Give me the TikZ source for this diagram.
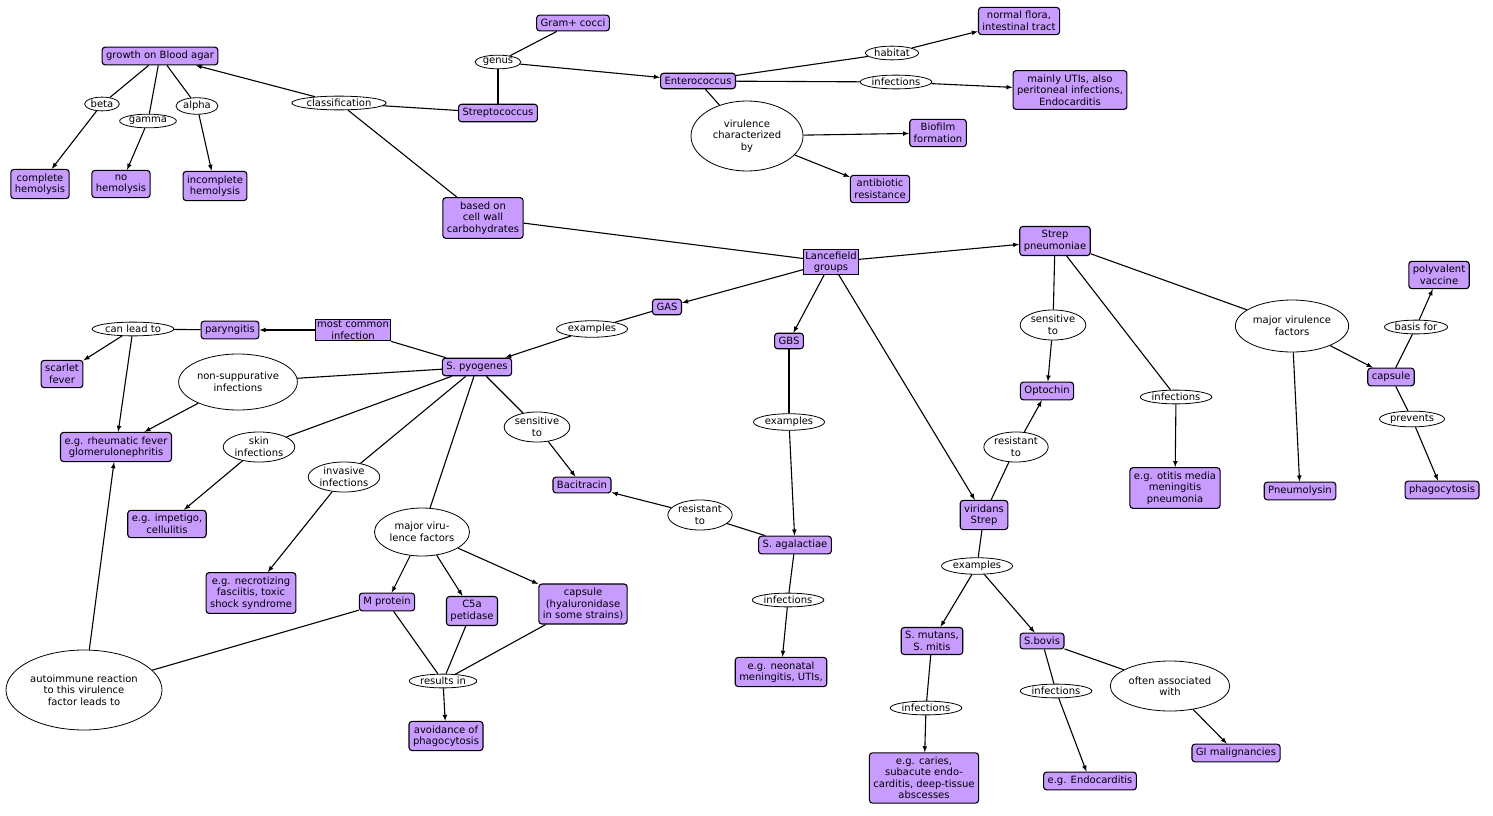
\documentclass[tikz,border=0pt]{standalone}
\usepackage{fontspec}
\setmainfont{DejaVu Sans}
\usetikzlibrary{arrows,shapes.geometric,positioning}
\definecolor{boxpurple}{RGB}{200,155,255}
\begin{document}
\begin{tikzpicture}
	[
	x=1pt, y=-1pt,
	every node/.style={font=\fontsize{10}{11.5}\selectfont, align=center},
  > = latex,
  box/.style = {draw, line width=1.1pt, fill=boxpurple, rounded corners=3pt, inner sep=4pt},
  sqbox/.style = {draw, line width=1.1pt, fill=boxpurple, inner sep=1.5pt},
  link/.style = {draw, ellipse, line width=0.8pt, fill=white, inner sep=1pt},
  every path/.style = {line width=1.1pt}
  ]
	\useasboundingbox (0,0) rectangle (1493,816);

	% concepts
	\node[box] (gram) at (573,23) {Gram+ cocci};
	\node[box] (blood) at (160,56) {growth on Blood agar};
	\node[box] (flora) at (1019,21) {normal flora,\\intestinal tract};
	\node[box] (entero) at (698,81) {Enterococcus};
	\node[box] (utis) at (1070,90) {mainly UTIs, also\\peritoneal infections,\\Endocarditis};
	\node[box] (strep) at (498,113) {Streptococcus};
	\node[box] (biofilm) at (938,133) {Biofilm\\formation};
	\node[box] (antib) at (880,189) {antibiotic\\resistance};
	\node[box] (complete) at (40,184) {complete\\hemolysis};
	\node[box] (nohem) at (121,184) {no\\hemolysis};
	\node[box] (incompl) at (215,186) {incomplete\\hemolysis};
	\node[box] (cellwall) at (483,218) {based on\\cell wall\\carbohydrates};
	\node[sqbox] (lance) at (831,262) {Lancefield\\groups};
	\node[box] (pneumo) at (1055,241) {Strep\\pneumoniae};
	\node[box] (polyv) at (1439,275) {polyvalent\\vaccine};
	\node[box] (gas) at (667,307) {GAS};
	\node[sqbox] (common) at (353,330) {most common\\infection};
	\node[box] (paryn) at (230,330) {paryngitis};
	\node[box] (gbs) at (789,341) {GBS};
	\node[box] (spyo) at (477,367) {S. pyogenes};
	\node[box] (scarlet) at (62,374) {scarlet\\fever};
	\node[box] (caps2) at (1391,377) {capsule};
	\node[box] (opto) at (1047,391) {Optochin};
	\node[box] (rheum) at (116,447) {e.g. rheumatic fever\\glomerulonephritis};
	\node[box] (bacit) at (582,485) {Bacitracin};
	\node[box] (otitis) at (1175,488) {e.g. otitis media\\meningitis\\pneumonia};
	\node[box] (pnlys) at (1300,491) {Pneumolysin};
	\node[box] (phago) at (1442,490) {phagocytosis};
	\node[box] (impet) at (167,524) {e.g. impetigo,\\cellulitis};
	\node[box] (virid) at (984,515) {viridans\\Strep};
	\node[box] (sagal) at (795,545) {S. agalactiae};
	\node[box] (necro) at (251,593) {e.g. necrotizing\\fasciitis, toxic\\shock syndrome};
	\node[box] (mprot) at (387,602) {M protein};
	\node[box] (cfive) at (472,611) {C5a\\petidase};
	\node[box] (caps1) at (583,604) {capsule\\(hyaluronidase\\in some strains)};
	\node[box] (mutans) at (932,641) {S. mutans,\\S. mitis};
	\node[box] (sbovis) at (1042,641) {S.bovis};
	\node[box] (neonat) at (781,672) {e.g. neonatal\\meningitis, UTIs,};
	\node[box] (avoid) at (446,736) {avoidance of\\phagocytosis};
	\node[box] (caries) at (924,778) {e.g. caries,\\subacute endo-\\carditis, deep-tissue\\abscesses};
	\node[box] (endoc) at (1090,781) {e.g. Endocarditis};
	\node[box] (gimal) at (1236,753) {GI malignancies};

	% linking phrases
	\node[link] (genus) at (498,62) {genus};
	\node[link] (habitat) at (892,53) {habitat};
	\node[link] (inf1) at (896,82) {infections};
	\node[link] (classif) at (339,103) {classification};
	\node[link] (beta) at (102,104) {beta};
	\node[link] (gamma) at (148,121) {gamma};
	\node[link] (alpha) at (197,106) {alpha};
	\node[link, minimum width=112, minimum height=70] (virul) at (747,136) {virulence\\characterized\\by};
	\node[link] (canlead) at (133,329) {can lead to};
	\node[link] (ex1) at (592,329) {examples};
	\node[link, minimum width=118, minimum height=56] (nonsupp) at (238,382) {non-suppurative\\infections};
	\node[link] (skin) at (259,447) {skin\\infections};
	\node[link] (invas) at (344,477) {invasive\\infections};
	\node[link] (sens1) at (537,427) {sensitive\\to};
	\node[link] (ex2) at (789,422) {examples};
	\node[link] (sens2) at (1053,325) {sensitive\\to};
	\node[link, minimum width=110, minimum height=52] (major2) at (1292,326) {major virulence\\factors};
	\node[link] (basis) at (1416,327) {basis for};
	\node[link] (inf2) at (1176,397) {infections};
	\node[link] (prev) at (1412,419) {prevents};
	\node[link] (resist1) at (1016,447) {resistant\\to};
	\node[link] (resist2) at (700,515) {resistant\\to};
	\node[link, minimum width=95, minimum height=48] (major1) at (422,532) {major viru-\\lence factors};
	\node[link] (ex3) at (977,566) {examples};
	\node[link] (inf3) at (788,600) {infections};
	\node[link, minimum width=156, minimum height=80] (autoimm) at (84,690) {autoimmune reaction\\to this virulence\\factor leads to};
	\node[link] (result) at (443,681) {results in};
	\node[link] (inf4) at (926,708) {infections};
	\node[link] (inf5) at (1056,691) {infections};
	\node[link, minimum width=118, minimum height=50] (often) at (1170,686) {often associated\\with};

	% connectors
	\draw (strep) -- (genus);
	\draw (genus) -- (gram);
	\draw[->] (genus) -- (entero);
	\draw (entero) -- (habitat);
	\draw[->] (habitat) -- (flora);
	\draw (entero) -- (inf1);
	\draw[->] (inf1) -- (utis);
	\draw (entero) -- (virul);
	\draw[->] (virul) -- (biofilm);
	\draw[->] (virul) -- (antib);
	\draw (strep) -- (classif);
	\draw[->] (classif) -- (blood);
	\draw (classif) -- (cellwall);
	\draw (blood) -- (beta);
	\draw[->] (beta) -- (complete);
	\draw (blood) -- (gamma);
	\draw[->] (gamma) -- (nohem);
	\draw (blood) -- (alpha);
	\draw[->] (alpha) -- (incompl);
	\draw (cellwall) -- (lance);
	\draw[->] (lance) -- (pneumo);
	\draw[->] (lance) -- (gas);
	\draw[->] (lance) -- (gbs);
	\draw[->] (lance) -- (virid);
	\draw (gas) -- (ex1);
	\draw[->] (ex1) -- (spyo);
	\draw (spyo) -- (common);
	\draw[->] (common) -- (paryn);
	\draw (paryn) -- (canlead);
	\draw[->] (canlead) -- (scarlet);
	\draw[->] (canlead) -- (rheum);
	\draw (spyo) -- (nonsupp);
	\draw[->] (nonsupp) -- (rheum);
	\draw (spyo) -- (skin);
	\draw[->] (skin) -- (impet);
	\draw (spyo) -- (invas);
	\draw[->] (invas) -- (necro);
	\draw (spyo) -- (sens1);
	\draw[->] (sens1) -- (bacit);
	\draw (spyo) -- (major1);
	\draw[->] (major1) -- (mprot);
	\draw[->] (major1) -- (cfive);
	\draw[->] (major1) -- (caps1);
	\draw (mprot) -- (result);
	\draw (cfive) -- (result);
	\draw (caps1) -- (result);
	\draw[->] (result) -- (avoid);
	\draw (mprot) -- (autoimm);
	\draw[->] (autoimm) -- (rheum);
	\draw (gbs) -- (ex2);
	\draw[->] (ex2) -- (sagal);
	\draw (sagal) -- (resist2);
	\draw[->] (resist2) -- (bacit);
	\draw (sagal) -- (inf3);
	\draw[->] (inf3) -- (neonat);
	\draw (pneumo) -- (sens2);
	\draw[->] (sens2) -- (opto);
	\draw (pneumo) -- (inf2);
	\draw[->] (inf2) -- (otitis);
	\draw (pneumo) -- (major2);
	\draw[->] (major2) -- (caps2);
	\draw[->] (major2) -- (pnlys);
	\draw (caps2) -- (basis);
	\draw[->] (basis) -- (polyv);
	\draw (caps2) -- (prev);
	\draw[->] (prev) -- (phago);
	\draw (virid) -- (resist1);
	\draw[->] (resist1) -- (opto);
	\draw (virid) -- (ex3);
	\draw[->] (ex3) -- (mutans);
	\draw[->] (ex3) -- (sbovis);
	\draw (mutans) -- (inf4);
	\draw[->] (inf4) -- (caries);
	\draw (sbovis) -- (inf5);
	\draw[->] (inf5) -- (endoc);
	\draw (sbovis) -- (often);
	\draw[->] (often) -- (gimal);

\end{tikzpicture}
\end{document}
